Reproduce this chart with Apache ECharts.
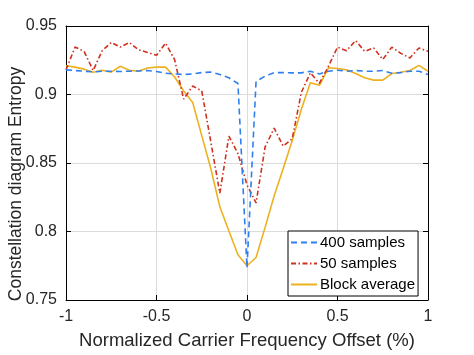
<!DOCTYPE html>
<html>
<head>
<meta charset="utf-8">
<script src="https://cdn.jsdelivr.net/npm/echarts@6/dist/echarts.min.js"></script>
<style>html,body{margin:0;padding:0;background:#fff}#c{width:474px;height:355px}</style>
</head>
<body>
<div id="c"></div>
<script>
const offsets = [-1,-0.95,-0.9,-0.85,-0.8,-0.75,-0.7,-0.65,-0.6,-0.55,-0.5,-0.45,-0.4,-0.35,-0.3,-0.25,-0.2,-0.15,-0.1,-0.05,0,0.05,0.1,0.15,0.2,0.25,0.3,0.35,0.4,0.45,0.5,0.55,0.6,0.65,0.7,0.75,0.8,0.85,0.9,0.95,1];
const samples400 = [0.918,0.9175,0.917,0.9165,0.917,0.917,0.9168,0.917,0.9172,0.9175,0.9168,0.9155,0.915,0.9146,0.915,0.916,0.9163,0.9146,0.9122,0.908,0.7735,0.9095,0.9134,0.916,0.916,0.9158,0.9158,0.917,0.915,0.917,0.9177,0.917,0.9175,0.917,0.917,0.9175,0.9155,0.916,0.917,0.917,0.9146];
const samples50 = [0.918,0.9346,0.9315,0.9175,0.932,0.938,0.9346,0.938,0.9327,0.9307,0.9286,0.9375,0.9255,0.8966,0.9062,0.9026,0.8655,0.828,0.8696,0.8569,0.834,0.8208,0.8617,0.8754,0.8623,0.8677,0.9014,0.9158,0.9081,0.9206,0.9346,0.932,0.9394,0.9315,0.934,0.9255,0.9346,0.93,0.9267,0.934,0.9315];
const blockAverage = [0.921,0.92,0.9185,0.9163,0.9177,0.9163,0.9206,0.9177,0.917,0.9194,0.92,0.92,0.9128,0.9026,0.8942,0.87,0.846,0.818,0.8003,0.783,0.775,0.781,0.803,0.826,0.846,0.8665,0.889,0.9086,0.9067,0.9195,0.919,0.918,0.9153,0.9122,0.9105,0.9105,0.9153,0.9163,0.9175,0.9213,0.917];
const seriesNames = ['400 samples','50 samples','Block average'];
const xTitle = 'Normalized Carrier Frequency Offset (%)';
const yTitle = 'Constellation diagram Entropy';

const pairs = arr => offsets.map((x, i) => [x, arr[i]]);
const FONT = 'Liberation Sans, Arial, sans-serif';
const tickCommon = { show: true, inside: true, length: 5, lineStyle: { color: '#000', width: 1 } };

const chart = echarts.init(document.getElementById('c'), null, { renderer: 'canvas' });
chart.setOption({
  animation: false,
  backgroundColor: '#fff',
  grid: { left: 66, right: 46, top: 26, bottom: 52, containLabel: false },
  xAxis: [{
    type: 'value', min: -1, max: 1, interval: 0.5, position: 'bottom',
    name: xTitle, nameLocation: 'middle', nameGap: 31,
    nameTextStyle: { fontFamily: FONT, fontSize: 18.5, color: '#262626' },
    axisLine: { show: true, onZero: false, lineStyle: { color: '#000', width: 1 } },
    axisTick: tickCommon,
    axisLabel: { fontFamily: FONT, fontSize: 16, color: '#262626', margin: 9 },
    splitLine: { show: true, lineStyle: { color: '#dcdcdc', width: 1 } }
  }, {
    type: 'value', min: -1, max: 1, interval: 0.5, position: 'top',
    axisLine: { show: true, onZero: false, lineStyle: { color: '#000', width: 1 } },
    axisTick: tickCommon, axisLabel: { show: false }, splitLine: { show: false }
  }],
  yAxis: [{
    type: 'value', min: 0.75, max: 0.95, interval: 0.05, position: 'left',
    axisLine: { show: true, onZero: false, lineStyle: { color: '#000', width: 1 } },
    axisTick: tickCommon,
    axisLabel: { fontFamily: FONT, fontSize: 16, color: '#262626', margin: 9 },
    splitLine: { show: true, lineStyle: { color: '#dcdcdc', width: 1 } }
  }, {
    type: 'value', min: 0.75, max: 0.95, interval: 0.05, position: 'right',
    axisLine: { show: true, onZero: false, lineStyle: { color: '#000', width: 1 } },
    axisTick: tickCommon, axisLabel: { show: false }, splitLine: { show: false }
  }],
  graphic: [{
    type: 'text', x: 16, y: 184, rotation: Math.PI / 2,
    style: { text: yTitle, fontFamily: FONT, fontSize: 17.5, fill: '#262626', align: 'center', verticalAlign: 'middle' }
  }],
  legend: {
    orient: 'vertical', left: 288, top: 231,
    backgroundColor: '#fff', borderColor: '#000', borderWidth: 1, borderRadius: 0,
    padding: [4, 3, 4, 2], itemWidth: 26, itemHeight: 14, itemGap: 6,
    itemStyle: { opacity: 0 },
    textStyle: { fontFamily: FONT, fontSize: 15, color: '#000', lineHeight: 14, padding: [0, 0, 0, -2] },
    data: seriesNames
  },
  series: [
    { name: seriesNames[0], type: 'line', data: pairs(samples400), symbol: 'none', z: 3,
      lineStyle: { color: '#2f7fef', width: 1.6, type: [6, 4] }, itemStyle: { color: '#2f7fef' } },
    { name: seriesNames[1], type: 'line', data: pairs(samples50), symbol: 'none', z: 2,
      lineStyle: { color: '#d0301f', width: 1.6, type: [5, 2.5, 1.5, 2.5] }, itemStyle: { color: '#d0301f' } },
    { name: seriesNames[2], type: 'line', data: pairs(blockAverage), symbol: 'none', z: 1,
      lineStyle: { color: '#edb120', width: 1.6, type: 'solid' }, itemStyle: { color: '#edb120' } }
  ]
});
</script>
</body>
</html>
